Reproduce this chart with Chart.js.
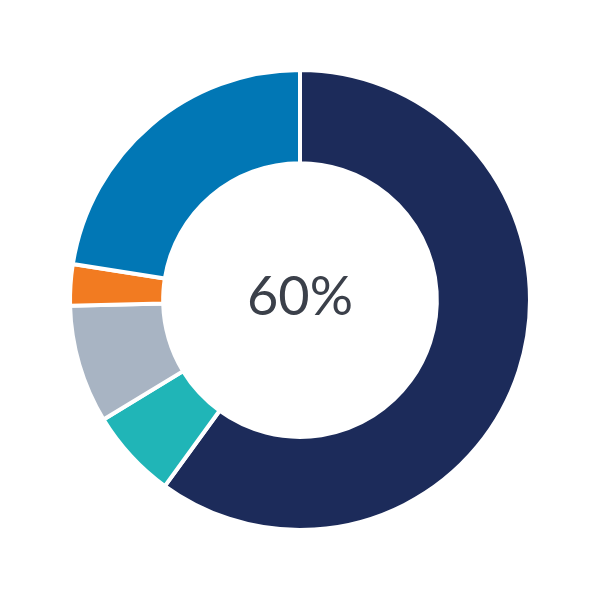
<!DOCTYPE html>
<html>
<head>
<meta charset="utf-8">
<script src="https://cdn.jsdelivr.net/npm/chart.js@4"></script>
<style>
  html, body { margin: 0; padding: 0; background: #fff; }
  #wrap { width: 600px; height: 600px; }
</style>
</head>
<body>
<div id="wrap"><canvas id="donut"></canvas></div>
<script>
const labels = ['Navy', 'Teal', 'Gray', 'Orange', 'Blue'];
const values = [60, 6.3, 8.3, 2.9, 22.5];
const colors = ['#1c2b5a', '#20b5b7', '#a8b4c3', '#f27b21', '#0177b5'];
const centerText = '60%';

const centerLabel = {
    id: 'centerLabel',
    afterDraw(chart) {
        const ctx = chart.ctx;
        const meta = chart.getDatasetMeta(0).data[0];
        ctx.save();
        ctx.font = '400 54px Lato';
        ctx.fillStyle = '#3b404a';
        ctx.textAlign = 'center';
        ctx.textBaseline = 'middle';
        ctx.fillText(centerText, meta.x, meta.y - 2);
        ctx.restore();
    }
};

new Chart(document.getElementById('donut'), {
    type: 'doughnut',
    data: {
        labels: labels,
        datasets: [{
            data: values,
            backgroundColor: colors,
            borderColor: '#ffffff',
            borderWidth: 4
        }]
    },
    options: {
        responsive: true,
        maintainAspectRatio: false,
        animation: false,
        radius: 230,
        cutout: '59.5%',
        plugins: {
            legend: { display: false },
            tooltip: { enabled: false }
        }
    },
    plugins: [centerLabel]
});
</script>
</body>
</html>
